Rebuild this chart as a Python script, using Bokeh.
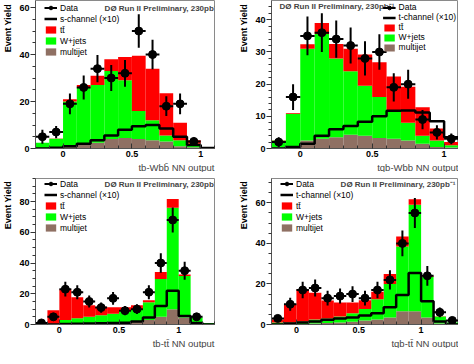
import numpy as np
from bokeh.plotting import figure
from bokeh.models import (Range1d, FixedTicker, NumeralTickFormatter, Legend,
                          LegendItem, Label, Title)
from bokeh.layouts import gridplot
from bokeh.embed import file_html
from bokeh.resources import INLINE

FONT = "Liberation Sans"
BIN_W = 0.1

# ---------------- data ----------------
centers_a = [-0.15, -0.05, 0.05, 0.15, 0.25, 0.35, 0.45, 0.55, 0.65, 0.75, 0.85, 0.95, 1.05]
centers_b = [-0.15, -0.05, 0.05, 0.15, 0.25, 0.35, 0.45, 0.55, 0.65, 0.75, 0.85, 0.95, 1.05, 1.15, 1.25]

x_major = [0, 0.5, 1]
x_minor = [-0.2, -0.1, 0.1, 0.2, 0.3, 0.4, 0.6, 0.7, 0.8, 0.9, 1.1, 1.2, 1.3]

# Panel 1: tb-Wbb NN output (s-channel)
data_1 = [5, 7, 19, 26, 34, 30, 32, 50, 40, 18, 19, 3, 0]
err_1 = [3, 2.6, 4.4, 5.1, 5.8, 5.5, 5.7, 7.1, 6.3, 4.2, 4.4, 1.7, 0]
multijet_1 = [0, 0, 1, 1.5, 2.5, 4, 4.5, 4, 3.5, 3, 1, 0.5, 0]
wjets_1 = [2.4, 4.1, 19, 24.5, 24.5, 29, 24.5, 12, 8.5, 2.5, 2.5, 1.5, 0]
ttbar_1 = [0, 0.2, 1, 1, 4, 5, 10, 23.5, 22, 18, 7.5, 1.5, 0.3]
signal_1 = [0, 0.3, 1, 2, 3.5, 5.5, 8, 9.5, 10, 8.5, 5, 1.5, 0.2]
yticks_1 = [0, 20, 40, 60]
yminor_1 = [5, 10, 15, 25, 30, 35, 45, 50, 55]

# Panel 2: tqb-Wbb NN output (t-channel)
data_2 = [2, 16, 35, 36, 34, 32, 28, 30, 19, 20, 9, 5, 3]
err_2 = [1.5, 4, 6, 6, 5.8, 5.6, 5.3, 5.5, 4.4, 4.5, 3, 2.2, 1.7]
multijet_2 = [0.3, 0.3, 2.5, 3, 3.5, 4.3, 4, 3.3, 3, 2.5, 1.5, 0.5, 0.3]
wjets_2 = [2.2, 10.5, 28.5, 32.6, 24.5, 19.7, 15.5, 12.7, 9, 5.5, 2.5, 2, 0.7]
ttbar_2 = [0.1, 0.2, 1.4, 3.4, 4.5, 7, 9.7, 10.8, 10.4, 11.2, 8.8, 3.7, 1]
signal_2 = [0, 0.5, 1.5, 4, 6, 7, 8.3, 10, 11.7, 11.8, 11.2, 8.5, 3.5]
yticks_2 = [0, 10, 20, 30, 40]
yminor_2 = [2, 4, 6, 8, 12, 14, 16, 18, 22, 24, 26, 28, 32, 34, 36, 38, 42, 44]

# Panel 3: tb-tt NN output (s-channel)
data_3 = [1, 5, 23, 21, 15, 11, 17, 9, 10, 21, 40, 68, 35, 5, 0]
err_3 = [1, 2.2, 4.8, 4.6, 3.9, 3.3, 4.1, 3, 3.2, 4.6, 6.3, 8.2, 5.9, 2.2, 0]
multijet_3 = [0, 0, 0.5, 0.5, 1, 1, 1, 1.5, 2, 3, 5, 10, 4.5, 1, 0]
wjets_3 = [0.5, 0.5, 2.5, 3.5, 4, 5, 6, 7, 7.5, 11.5, 24.6, 66, 27, 3.5, 1]
ttbar_3 = [0.1, 8.8, 20, 13.7, 7.6, 5.6, 4.2, 2.7, 3.1, 1.3, 4.5, 5.6, 1, 0.1, 0]
signal_3 = [0, 0, 0.3, 0.5, 0.7, 0.8, 1, 1.2, 2, 4.5, 12, 22, 5.5, 1, 0]
yticks_3 = [0, 20, 40, 60, 80]
yminor_3 = [5, 10, 15, 25, 30, 35, 45, 50, 55, 65, 70, 75, 85, 90, 95]

# Panel 4: tqb-tt NN output (t-channel)
data_4 = [3, 10, 17, 18, 13, 14, 15, 13, 17, 22, 40, 55, 24, 6, 2]
err_4 = [1.7, 3.2, 4.1, 4.2, 3.6, 3.7, 3.9, 3.6, 4.1, 4.7, 6.3, 7.4, 4.9, 2.4, 1.4]
multijet_4 = [0, 0, 0.3, 0.5, 0.7, 1, 1.3, 2, 2.5, 3.5, 6.5, 6.5, 3.5, 0.5, 0]
wjets_4 = [1, 1, 1.2, 2, 2.3, 3, 4.2, 5.7, 10, 16.5, 32, 52.5, 20, 3.5, 1]
ttbar_4 = [1.5, 9, 15.7, 13.2, 8.8, 6.8, 5.3, 4.3, 3.7, 4.9, 4.9, 2.8, 0.5, 0.1, 0]
signal_4 = [0, 0.5, 1, 1.5, 2.3, 3, 3.5, 4.5, 5.5, 8.5, 14.6, 25.4, 11.5, 1.5, 0]
yticks_4 = [0, 20, 40, 60]
yminor_4 = [5, 10, 15, 25, 30, 35, 45, 50, 55, 65, 70]

TITLE_TEXT = "DØ Run II Preliminary, 230pb\u207b\u00b9"
TT_LABEL = "tt\u0304"
# leading no-break spaces push the centred y-axis title towards the top of the axis
Y_TITLE = "\u00a0" * 37 + "Event Yield"

RED = "#ff0000"
GREEN = "#00ff00"
BROWN = "#8f7063"


def make_panel(centers, data, err, mj, wj, tt, sig, sig_label, xlabel,
               xr, ymax, yt, ym, width, height, bl, br, bt, bb,
               legend_right, title_right):
    p = figure(width=width, height=height, x_range=Range1d(*xr), y_range=Range1d(0, ymax),
               output_backend="svg", toolbar_location=None,
               min_border_left=bl, min_border_right=br, min_border_top=bt, min_border_bottom=bb)
    p.xgrid.visible = False
    p.ygrid.visible = False
    p.outline_line_color = "#8a8a8a"
    p.outline_line_width = 1
    p.background_fill_color = "white"
    p.border_fill_color = "white"

    # x title: right-aligned under the axis
    p.add_layout(Title(text=xlabel, align="right", offset=0, standoff=0, text_font=FONT,
                       text_font_size="9.5px", text_font_style="normal"), "below")

    c = np.array(centers, dtype=float)
    left = c - BIN_W / 2
    right = c + BIN_W / 2
    mj = np.array(mj, dtype=float)
    wj = np.array(wj, dtype=float)
    tt = np.array(tt, dtype=float)
    s1 = mj + wj
    s2 = s1 + tt

    r_mj = p.quad(left=left, right=right, bottom=0, top=mj, fill_color=BROWN, line_color=None)
    r_wj = p.quad(left=left, right=right, bottom=mj, top=s1, fill_color=GREEN, line_color=None)
    r_tt = p.quad(left=left, right=right, bottom=s1, top=s2, fill_color=RED, line_color=None)

    sx = list(left) + [right[-1]]
    sy = list(sig) + [sig[-1]]
    r_sig = p.step(x=sx, y=sy, mode="after", line_color="black", line_width=2.5)

    d = np.array(data, dtype=float)
    e = np.array(err, dtype=float)
    m = d > 0
    p.segment(x0=c[m], y0=d[m] - e[m], x1=c[m], y1=d[m] + e[m], line_color="black", line_width=2)
    r_h = p.segment(x0=left[m], y0=d[m], x1=right[m], y1=d[m], line_color="black", line_width=2)
    r_pts = p.scatter(x=c[m], y=d[m], size=8, marker="circle", fill_color="black", line_color="black")

    items = [
        LegendItem(label="Data", renderers=[r_h, r_pts]),
        LegendItem(label=sig_label, renderers=[r_sig]),
        LegendItem(label=TT_LABEL, renderers=[r_tt]),
        LegendItem(label="W+jets", renderers=[r_wj]),
        LegendItem(label="multijet", renderers=[r_mj]),
    ]
    frame_w = width - bl - br
    frame_h = height - bt - bb
    if legend_right:
        lg = Legend(items=items, location="top_right", margin=2, label_height=10)
    else:
        lg = Legend(items=items, location=(9, frame_h - 57), margin=0, label_height=11)
    lg.border_line_color = None
    lg.background_fill_alpha = 0
    lg.padding = 0
    lg.spacing = 0
    lg.glyph_width = 13
    lg.glyph_height = 9
    lg.label_standoff = 3
    lg.label_text_font = FONT
    lg.label_text_font_size = "8.5px"
    lg.label_text_color = "black"
    p.add_layout(lg)

    if title_right:
        t = Label(x=frame_w - 3, y=frame_h - 8, x_units="screen", y_units="screen",
                  text=TITLE_TEXT, text_align="right", text_baseline="middle",
                  text_font=FONT, text_font_size="8px", text_font_style="bold")
    else:
        t = Label(x=8, y=frame_h - 6, x_units="screen", y_units="screen",
                  text=TITLE_TEXT, text_align="left", text_baseline="middle",
                  text_font=FONT, text_font_size="8px", text_font_style="bold")
    p.add_layout(t)

    xa = p.xaxis[0]
    xa.ticker = FixedTicker(ticks=x_major, minor_ticks=x_minor)
    xa.formatter = NumeralTickFormatter(format="0.[0]")
    xa.major_tick_in = 5
    xa.major_tick_out = 0
    xa.minor_tick_in = 3
    xa.minor_tick_out = 0
    xa.major_label_standoff = 2

    ya = p.yaxis[0]
    ya.ticker = FixedTicker(ticks=yt, minor_ticks=ym)
    ya.major_tick_in = 0
    ya.major_tick_out = 5
    ya.minor_tick_in = 0
    ya.minor_tick_out = 3
    ya.major_label_standoff = 1
    ya.axis_label = Y_TITLE
    ya.axis_label_standoff = 3
    ya.axis_label_text_font = FONT
    ya.axis_label_text_font_size = "9px"
    ya.axis_label_text_font_style = "bold"
    ya.axis_label_text_color = "black"

    for ax in (xa, ya):
        ax.axis_line_color = "#555555"
        ax.major_tick_line_color = "#333333"
        ax.minor_tick_line_color = "#333333"
        ax.major_label_text_font = FONT
        ax.major_label_text_font_size = "9px"
        ax.major_label_text_font_style = "bold"
        ax.major_label_text_color = "black"

    return p


p1 = make_panel(centers_a, data_1, err_1, multijet_1, wjets_1, ttbar_1, signal_1,
                "s-channel (\u00d710)", "tb-Wbb\u0304 NN output",
                (-0.2, 1.1), 63, yticks_1, yminor_1, 226, 172, 27, 12, 0, 24, False, True)
p2 = make_panel(centers_a, data_2, err_2, multijet_2, wjets_2, ttbar_2, signal_2,
                "t-channel (\u00d710)", "tqb-Wbb NN output",
                (-0.2, 1.1), 46, yticks_2, yminor_2, 232, 172, 45, 0, 0, 24, True, False)
p3 = make_panel(centers_b, data_3, err_3, multijet_3, wjets_3, ttbar_3, signal_3,
                "s-channel (\u00d710)", "tb-tt\u0304 NN output",
                (-0.2, 1.3), 95, yticks_3, yminor_3, 226, 176, 27, 12, 6, 22, False, True)
p4 = make_panel(centers_b, data_4, err_4, multijet_4, wjets_4, ttbar_4, signal_4,
                "t-channel (\u00d710)", "tqb-tt\u0304 NN output",
                (-0.2, 1.3), 72, yticks_4, yminor_4, 232, 176, 45, 0, 6, 22, False, True)

grid = gridplot([[p1, p2], [p3, p4]], toolbar_location=None)

open("out.html", "w").write(file_html(grid, INLINE))
